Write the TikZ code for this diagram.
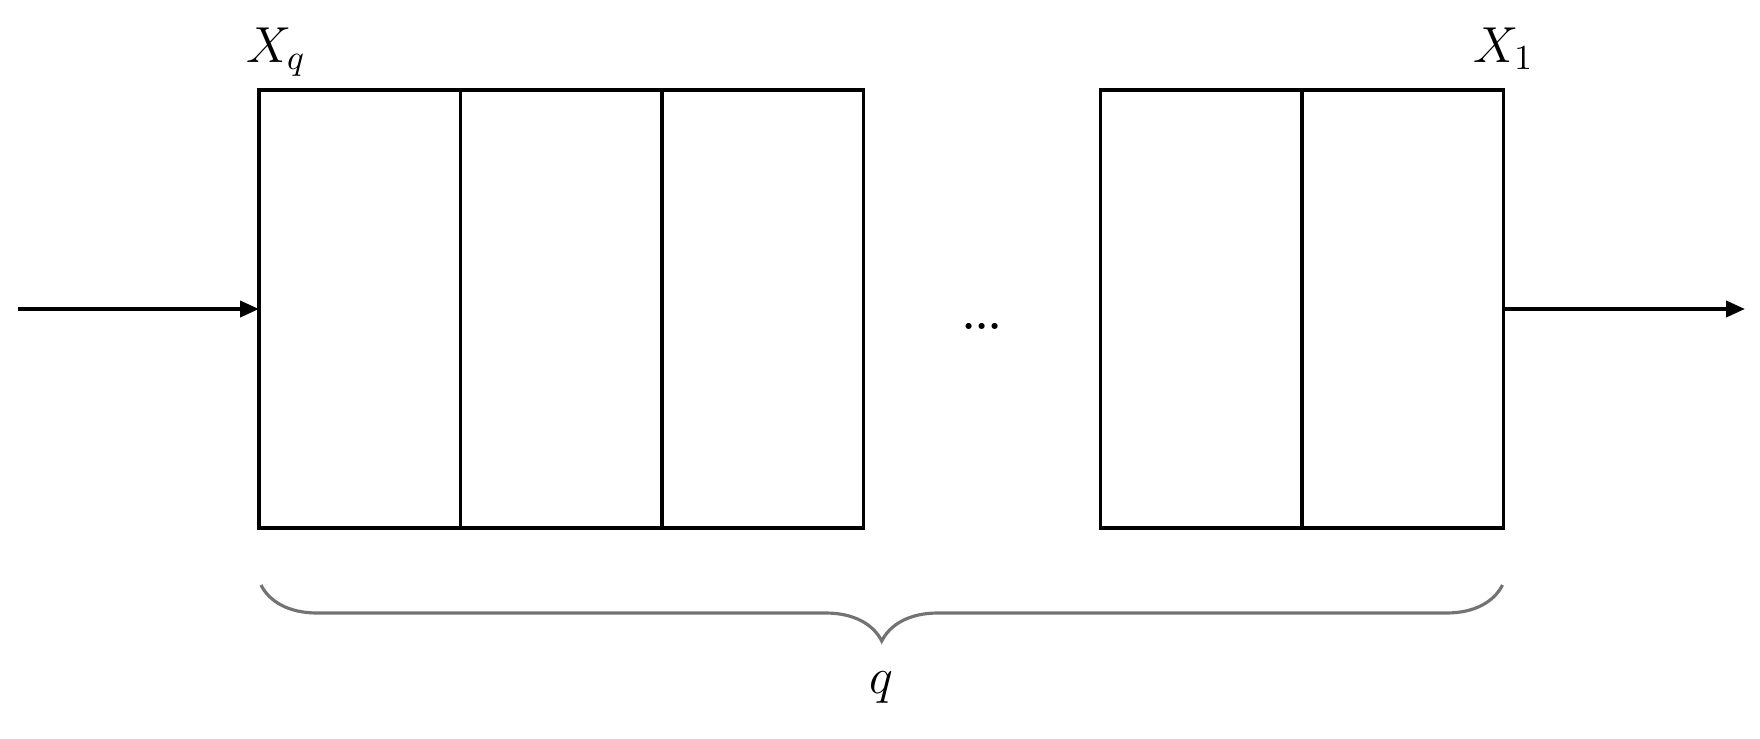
\documentclass[tikz,border=0pt]{standalone}
\usetikzlibrary{positioning,calc,arrows.meta,decorations.pathreplacing}

\begin{document}
\begin{tikzpicture}[auto, node distance=0cm,
    cell/.style={draw, line width=1.1pt, minimum width=2.015cm, minimum height=4.38cm, inner sep=0pt, outer sep=0pt},
    lbl/.style={inner sep=0pt, font=\Large},
    flow/.style={line width=1.1pt, -{Triangle[length=0.19cm,width=0.16cm]}},
    brace/.style={decorate, decoration={brace, mirror, amplitude=0.56cm}, line width=0.9pt, black!55}]
    \useasboundingbox (0,0) rectangle (17.6,7.38);

    \node [cell] (c1) at (3.5975,4.29) {};
    \node [cell, right=of c1] (c2) {};
    \node [cell, right=of c2] (c3) {};
    \node [cell, right=2.37cm of c3] (c4) {};
    \node [cell, right=of c4] (c5) {};

    \node [font=\fontsize{12}{14}\selectfont\bfseries, anchor=base] (dots) at ($(c3.east)!0.5!(c4.west)+(0,-0.2)$) {...};

    \node [lbl, anchor=base] (xq) at ([shift={(0.17,0.28)}]c1.north west) {$X_q$};
    \node [lbl, anchor=base] (x1) at ([yshift=0.28cm]c5.north east) {$X_1$};

    \coordinate (in) at (0.18,4.29);
    \coordinate (out) at (17.45,4.29);
    \draw [flow] (in) -- (c1);
    \draw [flow] (c5) -- (out);

    \coordinate (bl) at ([shift={(0.02,-0.57)}]c1.south west);
    \coordinate (br) at ([shift={(-0.01,-0.57)}]c5.south east);
    \draw [brace] (bl) -- (br) node [midway, below=0.85cm, lbl, text=black] (qlbl) {$q$};
\end{tikzpicture}
\end{document}
